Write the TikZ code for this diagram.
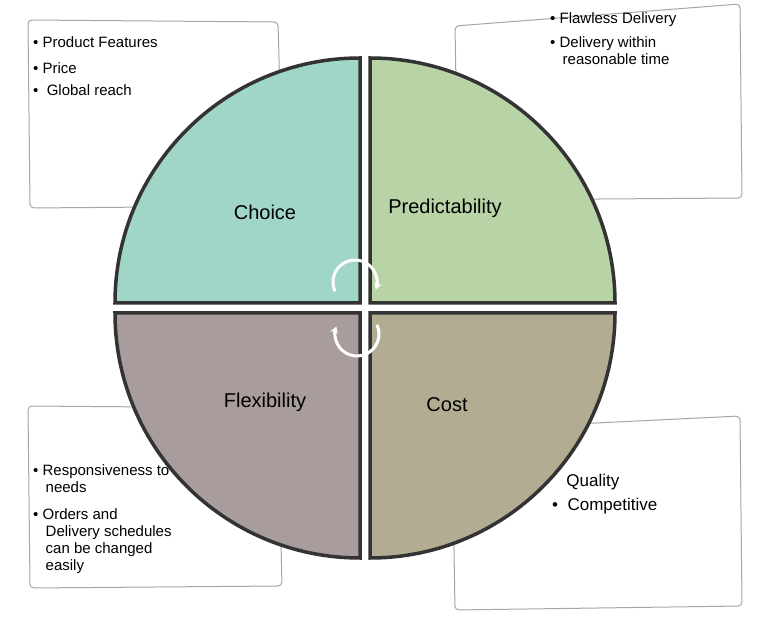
\documentclass[tikz,border=0pt]{standalone}
\usepackage{fontspec}
\setmainfont{Liberation Sans}
\usetikzlibrary{arrows.meta,calc}
\begin{document}
\begin{tikzpicture}[x=1pt,y=1pt,
  box/.style={draw=gray!70,fill=white,line width=1pt,rounded corners=4pt},
  quad/.style={draw=black!80,line width=3.5pt},
  lbl/.style={font=\fontsize{20}{22}\selectfont},
  bl/.style={font=\fontsize{15}{17}\selectfont,align=left,anchor=north west,inner sep=0pt},
  cyc/.style={draw=white,line width=3pt,-{Stealth[length=7pt,width=8pt]}}]
\useasboundingbox (0,0) rectangle (760,616);
% boxes
\draw[box] (28,596) -- (278,594) -- (283,410) -- (30,408) -- cycle;
\draw[box] (455,590) -- (740,612) -- (742,418) -- (458,416) -- cycle;
\draw[box] (28,210) -- (278,208) -- (282,30) -- (30,28) -- cycle;
\draw[box] (452,186) -- (740,200) -- (742,10) -- (455,6) -- cycle;
% box texts
\node[bl] (t1) at (33,580) {• Product Features};
\node[bl] (t2) at (33,554) {• Price};
\node[bl] (t3) at (33,532) {•\ \ Global reach};
\node[bl] (t4) at (550,604) {• Flawless Delivery};
\node[bl] (t5) at (550,580) {• Delivery within\\\ \ \ reasonable time};
\node[bl] (t6) at (33,152) {• Responsiveness to\\\ \ \ needs};
\node[bl] (t7) at (33,108) {• Orders and\\\ \ \ Delivery schedules\\\ \ \ can be changed\\\ \ \ easily};
\node[bl,font=\fontsize{17}{24}\selectfont] (t8) at (552,142) {\ \ \ Quality\\•\ \ Competitive};
% quadrants
\coordinate (c) at (365,308);
\draw[quad,fill={rgb,255:red,160;green,214;blue,200}] ($(c)+(-5,5)$) -- ++(-245,0) arc (180:90:245) -- cycle;
\draw[quad,fill={rgb,255:red,184;green,212;blue,166}] ($(c)+(5,5)$) -- ++(0,245) arc (90:0:245) -- cycle;
\draw[quad,fill={rgb,255:red,168;green,156;blue,156}] ($(c)+(-5,-5)$) -- ++(0,-245) arc (270:180:245) -- cycle;
\draw[quad,fill={rgb,255:red,178;green,172;blue,146}] ($(c)+(5,-5)$) -- ++(245,0) arc (0:-90:245) -- cycle;
\node[lbl] (q1) at (265,404) {Choice};
\node[lbl] (q2) at (445,408) {Predictability};
\node[lbl] (q3) at (265,214) {Flexibility};
\node[lbl] (q4) at (447,211) {Cost};
% cycle arrows
\coordinate (a1) at (355,334);
\coordinate (a2) at (357,282);
\draw[cyc] ($(a1)+(205:22)$) arc (205:-20:22);
\draw[cyc] ($(a2)+(25:22)$) arc (25:-200:22);
\end{tikzpicture}
\end{document}
